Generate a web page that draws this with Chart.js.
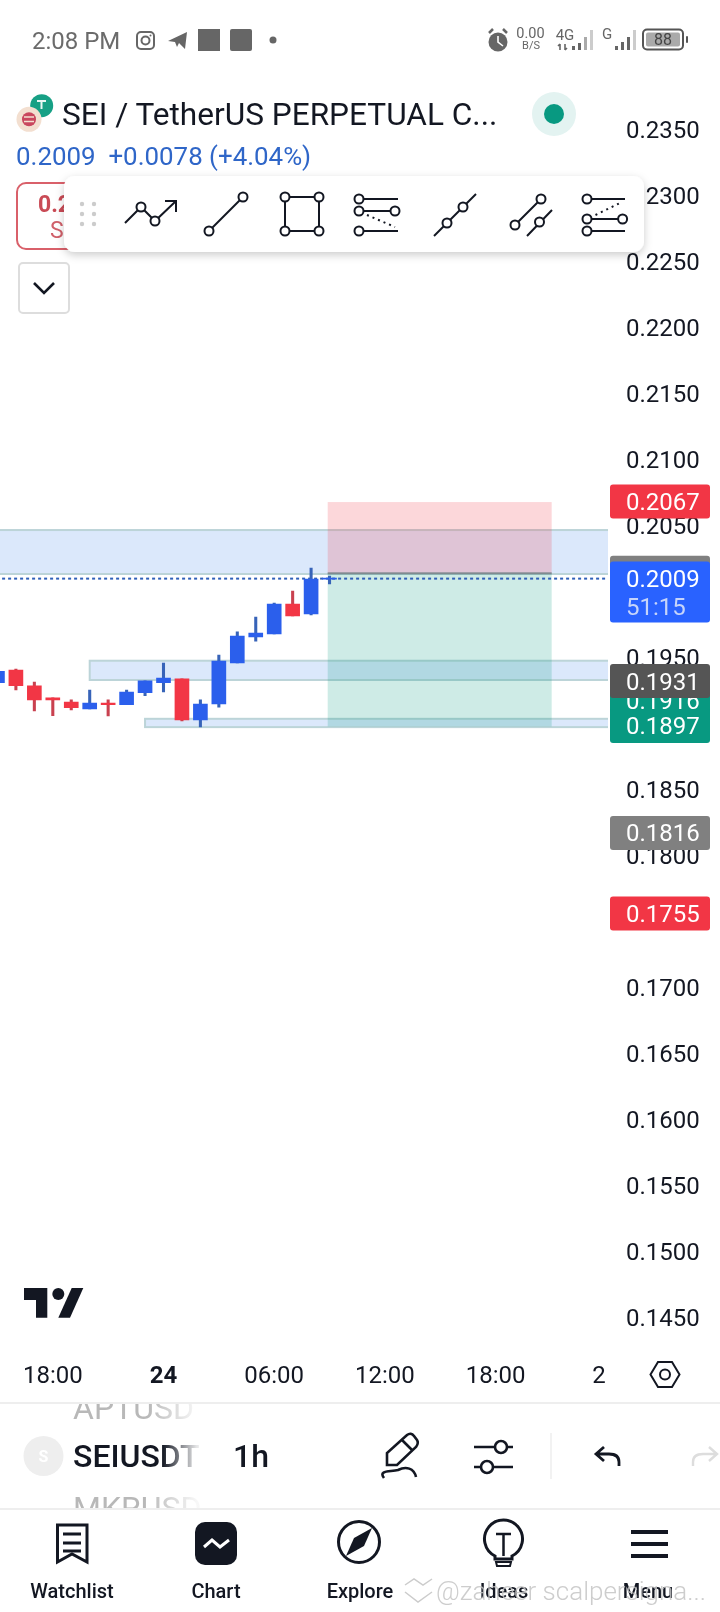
<!DOCTYPE html>
<html>
<head>
<meta charset="utf-8">
<title>SEIUSDT</title>
<script src="https://cdn.jsdelivr.net/npm/chart.js@4"></script>
<style>
    html, body { margin: 0; padding: 0; background: #fff; }
    #wrap { position: relative; width: 720px; height: 1612px; overflow: hidden; }
    #chart { position: absolute; left: 0; top: 0; }
    #overlay { position: absolute; left: 0; top: 0; pointer-events: none; font-family: Roboto, sans-serif; }
    .ln { fill: none; stroke: #131722; stroke-width: 2; }
    .dot { fill: #fff; stroke: #131722; stroke-width: 2; }
    .st { fill: #666; }
    .nav { font-size: 20px; font-weight: 500; fill: #131722; text-anchor: middle; }
</style>
</head>
<body>
<div id="wrap">
<canvas id="chart" width="720" height="1612"></canvas>
<svg id="overlay" width="720" height="1612" viewBox="0 0 720 1612">
    <defs>
        <linearGradient id="fade" x1="73" x2="197" y1="0" y2="0" gradientUnits="userSpaceOnUse">
            <stop offset="0.72" stop-color="#131722"/>
            <stop offset="1" stop-color="#131722" stop-opacity="0.1"/>
        </linearGradient>
        <linearGradient id="fadeGrey" x1="73" x2="197" y1="0" y2="0" gradientUnits="userSpaceOnUse">
            <stop offset="0.6" stop-color="#b8b8b8"/>
            <stop offset="1" stop-color="#b8b8b8" stop-opacity="0.1"/>
        </linearGradient>
        <filter id="shadow" x="-5%" y="-20%" width="110%" height="150%">
            <feDropShadow dx="0" dy="3" stdDeviation="4" flood-color="#000" flood-opacity="0.2"/>
        </filter>
        <clipPath id="ribbonClip"><rect x="0" y="1404" width="720" height="104"/></clipPath>
    </defs>

    <!-- status bar -->
    <text x="32" y="49" font-size="24" fill="#6b6b6b">2:08 PM</text>
    <rect x="137" y="32" width="17" height="17" rx="4" fill="none" stroke="#666" stroke-width="2"/>
    <circle cx="145.5" cy="40.5" r="4" fill="none" stroke="#666" stroke-width="2"/>
    <circle cx="150.5" cy="35.5" r="1" class="st"/>
    <path d="M168 41 L187 32 L185 49 L179 43 L177 47 L175 42 Z" class="st"/>
    <rect x="198" y="29" width="22" height="22" class="st"/>
    <rect x="230" y="29" width="22" height="22" rx="2" class="st"/>
    <circle cx="273" cy="40" r="3.5" class="st"/>
    <circle cx="498" cy="42" r="9.5" class="st"/>
    <path d="M498 36 V42 L503 46" fill="none" stroke="#fff" stroke-width="1.6"/>
    <path d="M489 33 L493 29 M507 33 L503 29" stroke="#666" stroke-width="2.5"/>
    <text x="530.5" y="38" font-size="14.5" fill="#666" text-anchor="middle">0.00</text>
    <text x="531" y="49" font-size="11" fill="#666" text-anchor="middle">B/S</text>
    <text x="565" y="40" font-size="15" fill="#666" text-anchor="middle">4G</text>
    <path d="M560 44 V50 M558 46 L560 44 M565 44 V50 M567 48 L565 50" stroke="#666" stroke-width="1.6" fill="none"/>
    <rect x="572" y="46" width="3" height="4" class="st"/>
    <rect x="578" y="43" width="3" height="7" class="st"/>
    <rect x="584" y="37" width="3" height="13" fill="#aaa"/>
    <rect x="590" y="30" width="3" height="20" fill="#ccc"/>
    <text x="607" y="39" font-size="15" fill="#666" text-anchor="middle">G</text>
    <rect x="615" y="46" width="3" height="4" class="st"/>
    <rect x="621" y="42" width="3" height="8" class="st"/>
    <rect x="627" y="37" width="3" height="13" class="st"/>
    <rect x="633" y="30" width="3" height="20" fill="#ccc"/>
    <rect x="643" y="29.5" width="40" height="20" rx="4" fill="#fff" stroke="#555" stroke-width="2"/>
    <rect x="646" y="32.5" width="34" height="14" rx="2" fill="#aaa"/>
    <text x="663" y="45" font-size="16" fill="#444" text-anchor="middle">88</text>
    <rect x="686" y="36" width="2" height="7" rx="1" fill="#555"/>

    <!-- symbol header -->
    <circle cx="41.7" cy="105.7" r="11.5" fill="#17a085"/>
    <path d="M37 101 H46 M41.5 101 V109" stroke="#e8f6f3" stroke-width="2" fill="none"/>
    <circle cx="29" cy="119.3" r="12.5" fill="#f3dfd0"/>
    <circle cx="29" cy="119.3" r="7" fill="#c9475e"/>
    <path d="M24 117 H34 M24 121.5 H34" stroke="#f3dfd0" stroke-width="1.4"/>
    <text x="62" y="125" font-size="31.6" fill="#131722">SEI / TetherUS PERPETUAL C...</text>
    <circle cx="554" cy="114" r="22" fill="#e3f3f1"/>
    <circle cx="554" cy="114" r="10" fill="#089981"/>
    <text x="16" y="165" font-size="25.9" fill="#2f66c8" xml:space="preserve">0.2009  +0.0078 (+4.04%)</text>

    <!-- sell button, mostly under the drawing toolbar -->
    <rect x="17" y="183" width="110" height="66" rx="9" fill="#fff" stroke="#d9606a" stroke-width="2"/>
    <text x="38" y="212" font-size="23" font-weight="700" fill="#c94a55">0.2</text>
    <text x="50" y="238" font-size="23" fill="#d0606a">S</text>
    <rect x="19" y="263" width="50" height="50" rx="4" fill="#fff" stroke="#ddd" stroke-width="2"/>
    <path d="M34 283 L44 293 L54 283" fill="none" stroke="#131722" stroke-width="2.6"/>

    <!-- drawing toolbar -->
    <rect x="64" y="176" width="580" height="76" rx="11" fill="#fff" filter="url(#shadow)"/>
    <g fill="#ccc">
        <circle cx="82" cy="204" r="2.2"/><circle cx="94" cy="204" r="2.2"/>
        <circle cx="82" cy="214" r="2.2"/><circle cx="94" cy="214" r="2.2"/>
        <circle cx="82" cy="224" r="2.2"/><circle cx="94" cy="224" r="2.2"/>
    </g>
    <path class="ln" d="M125 223 L141 207 L155 221 L176 201 M165 201 H176 V212"/>
    <circle class="dot" cx="141" cy="207" r="4.5"/><circle class="dot" cx="155" cy="221" r="4.5"/>
    <path class="ln" d="M209 231 L243 197"/>
    <circle class="dot" cx="209" cy="231" r="4.5"/><circle class="dot" cx="243" cy="197" r="4.5"/>
    <rect class="ln" x="285" y="197" width="34" height="34"/>
    <circle class="dot" cx="285" cy="197" r="4.5"/><circle class="dot" cx="319" cy="197" r="4.5"/>
    <circle class="dot" cx="285" cy="231" r="4.5"/><circle class="dot" cx="319" cy="231" r="4.5"/>
    <path class="ln" d="M359 199 H398 M359 211 H395 M359 231 H398"/>
    <path class="ln" d="M367 215 L395 227" stroke-dasharray="2 4"/>
    <circle class="dot" cx="359" cy="199" r="4.5"/><circle class="dot" cx="359" cy="211" r="4.5"/>
    <circle class="dot" cx="395" cy="211" r="4.5"/><circle class="dot" cx="359" cy="231" r="4.5"/>
    <path class="ln" d="M434 236 L476 194"/>
    <circle class="dot" cx="447" cy="223" r="4.5"/><circle class="dot" cx="463" cy="207" r="4.5"/>
    <path class="ln" d="M515 225 L541 199 M527 236 L552 210"/>
    <circle class="dot" cx="515" cy="225" r="4.5"/><circle class="dot" cx="541" cy="199" r="4.5"/>
    <circle class="dot" cx="539.5" cy="222" r="4.5"/>
    <path class="ln" d="M587 199 H625 M587 219 H622 M587 231 H625"/>
    <path class="ln" d="M595.5 215 L622 202" stroke-dasharray="2 4"/>
    <circle class="dot" cx="587" cy="199" r="4.5"/><circle class="dot" cx="587" cy="219" r="4.5"/>
    <circle class="dot" cx="622.6" cy="219" r="4.5"/><circle class="dot" cx="587" cy="231" r="4.5"/>

    <!-- tradingview mark -->
    <path d="M24 1288 H47.3 V1317.7 H36 V1300 H24 Z" fill="#131722"/>
    <circle cx="58.3" cy="1294" r="6" fill="#131722"/>
    <path d="M71.7 1288 H83.3 L70 1317.7 H58.3 Z" fill="#131722"/>

    <!-- scale settings button -->
    <path class="ln" d="M650.5 1374.5 L658 1362 H672 L679.5 1374.5 L672 1387 H658 Z"/>
    <circle class="ln" cx="665" cy="1374.5" r="5"/>
    <path d="M0 1403 H720 M0 1509 H720" stroke="#eee" stroke-width="2"/>

    <!-- symbol and interval wheel -->
    <g clip-path="url(#ribbonClip)">
        <text x="73" y="1419" font-size="32" fill="url(#fadeGrey)">APTUSD</text>
        <text x="73" y="1519" font-size="32" fill="url(#fadeGrey)">MKRUSD</text>
    </g>
    <circle cx="43.5" cy="1456" r="20" fill="#eee"/>
    <text x="43.5" y="1462" font-size="16" font-weight="700" fill="#fff" text-anchor="middle">S</text>
    <text x="73" y="1467" font-size="32" font-weight="500" fill="url(#fade)">SEIUSDT</text>
    <text x="233" y="1467" font-size="32" font-weight="500" fill="#131722">1h</text>
    <path fill="none" stroke="#131722" stroke-width="2.6" d="M387 1465 V1453 L407 1435 Q411 1432 414 1436 L417 1440 Q419 1443 416 1447 L397 1465 Z M402 1440 L412 1450"/>
    <path fill="none" stroke="#131722" stroke-width="2.6" d="M384 1478 C378 1470 390 1472 398 1470 C406 1466 414 1468 416 1477"/>
    <path fill="none" stroke="#131722" stroke-width="2.6" d="M474 1447 H495 M507 1447 H513 M474 1467 H481 M493 1467 H513"/>
    <circle fill="none" stroke="#131722" stroke-width="2.6" cx="501" cy="1447" r="6"/>
    <circle fill="none" stroke="#131722" stroke-width="2.6" cx="487" cy="1467" r="6"/>
    <path d="M551 1433 V1479" stroke="#eee" stroke-width="1.5"/>
    <path fill="none" stroke="#131722" stroke-width="2.8" d="M619 1466 V1462 Q619 1454 609 1454 H597 M604 1447 L596 1454 L604 1461"/>
    <path d="M693 1466 V1462 Q693 1454 703 1454 H716 M709 1447 L717 1454 L709 1461" fill="none" stroke="#ddd" stroke-width="2.4"/>

    <!-- bottom navigation -->
    <path d="M57.5 1525 H87 V1562 L72 1554 L57.5 1562 Z" fill="none" stroke="#131722" stroke-width="3"/>
    <path d="M63 1534 H81 M63 1543 H81 M63 1551 H81" stroke="#131722" stroke-width="3"/>
    <rect x="195" y="1522" width="42" height="43" rx="10" fill="#131722"/>
    <path d="M204 1547 L212 1540 L220 1547 L229 1540" fill="none" stroke="#fff" stroke-width="3"/>
    <circle cx="359" cy="1542" r="20.5" fill="none" stroke="#131722" stroke-width="3"/>
    <path d="M372 1528 L354 1538 L346 1556 L364 1546 Z" fill="#131722"/>
    <path d="M495 1556 A19 19 0 1 1 512 1556 V1559 H495 Z" fill="none" stroke="#131722" stroke-width="3"/>
    <path d="M496 1534 H511 M503.5 1534 V1556" stroke="#131722" stroke-width="2.5"/>
    <path d="M496 1562 H511 L510 1566 H497 Z" fill="none" stroke="#131722" stroke-width="2"/>
    <path d="M631 1532 H668 M631 1544 H668 M631 1556 H668" stroke="#131722" stroke-width="4"/>

    <text class="nav" x="72" y="1598">Watchlist</text>
    <text class="nav" x="216" y="1598">Chart</text>
    <text class="nav" x="360" y="1598">Explore</text>
    <text class="nav" x="504" y="1598">Ideas</text>
    <text class="nav" x="648" y="1598">Menu</text>
    <path d="M405 1585 L414 1579 L423 1585 L432 1579 M405 1592 L418 1602 L432 1592" fill="none" stroke="#ccc" stroke-width="1.5"/>
    <text x="436" y="1600" font-size="26" font-weight="300" fill="#c4c4c4" fill-opacity="0.85">@zaheer scalpersigna...</text>
</svg>
</div>

<script>
// 1h candles, hours counted from the 24th 00:00
const hours = [-9, -8, -7, -6, -5, -4, -3, -2, -1, 0, 1, 2, 3, 4, 5, 6, 7, 8, 9];
const opens = [0.19302, 0.19398, 0.19277, 0.19186, 0.19155, 0.19102, 0.19148, 0.19135, 0.19226, 0.19302,
    0.19330, 0.19019, 0.19140, 0.19451, 0.19648, 0.19671, 0.19898, 0.19822, 0.20085];
const highs = [0.19388, 0.19405, 0.19307, 0.19186, 0.19171, 0.19246, 0.19171, 0.19246, 0.19315, 0.19451,
    0.19330, 0.19171, 0.19511, 0.19686, 0.19799, 0.19905, 0.19996, 0.20170, 0.20110];
const lows = [0.19302, 0.19246, 0.19087, 0.19052, 0.19095, 0.19102, 0.19049, 0.19135, 0.19203, 0.19231,
    0.19012, 0.18966, 0.19117, 0.19451, 0.19617, 0.19671, 0.19807, 0.19815, 0.20050];
const closes = [0.19388, 0.19279, 0.19171, 0.19171, 0.19112, 0.19148, 0.19135, 0.19231, 0.19315, 0.19337,
    0.19019, 0.19140, 0.19466, 0.19655, 0.19678, 0.19898, 0.19807, 0.20087, 0.20095];

const lastPrice = 0.2009;
const countdown = "51:15";

const yTickValues = [0.235, 0.23, 0.225, 0.22, 0.215, 0.21, 0.205, 0.2, 0.195, 0.19, 0.185, 0.18, 0.175, 0.17, 0.165, 0.16, 0.155, 0.15, 0.145];
const yTickLabels = ["0.2350", "0.2300", "0.2250", "0.2200", "0.2150", "0.2100", "0.2050", "0.2000", "0.1950", "0.1900", "0.1850", "0.1800", "0.1750", "0.1700", "0.1650", "0.1600", "0.1550", "0.1500", "0.1450"];
const xTickValues = [-6, 0, 6, 12, 18, 23.6];
const xTickLabels = ["18:00", "24", "06:00", "12:00", "18:00", "2"];

// support / resistance zones
const zoneStarts = [-12, -4, -1];
const zoneTops = [0.20458, 0.19468, 0.19028];
const zoneBottoms = [0.20125, 0.19322, 0.18965];

// long position tool
const positionStart = 8.9;
const positionEnd = 21.04;
const positionStop = 0.2067;
const positionEntry = 0.2013;
const positionTarget = 0.1897;

// price tags on the right, painted in this order
const tagPrices = [0.2067, 0.2013, 0.1916, 0.1897, 0.1931, 0.1816, 0.1755];
const tagTexts = ["0.2067", "0.2013", "0.1916", "0.1897", "0.1931", "0.1816", "0.1755"];
const tagFills = ["#f23645", "#808080", "#089981", "#089981", "#555555", "#808080", "#f23645"];

const upColor = "#2b5fec";
const downColor = "#f23645";
const upWick = "#3763b8";
const downWick = "#c9414f";
const FONT = "Roboto";

let zonesPlugin = {
    id: "zones",
    beforeDatasetsDraw(chart)
    {
        let ctx = chart.ctx;
        let area = chart.chartArea;
        let x = chart.scales.x;
        let y = chart.scales.y;

        ctx.save();
        ctx.beginPath();
        ctx.rect(area.left, area.top, area.right - area.left, area.bottom - area.top);
        ctx.clip();

        ctx.fillStyle = "#dbe8fb";
        ctx.strokeStyle = "#bcd4d8";
        ctx.lineWidth = 2;
        for(let i = 0; i < zoneStarts.length; i++)
        {
            let left = x.getPixelForValue(zoneStarts[i]);
            let top = y.getPixelForValue(zoneTops[i]);
            let bottom = y.getPixelForValue(zoneBottoms[i]);
            ctx.fillRect(left, top, area.right + 10 - left, bottom - top);
            ctx.strokeRect(left, top, area.right + 10 - left, bottom - top);
        }

        let left = x.getPixelForValue(positionStart);
        let width = x.getPixelForValue(positionEnd) - left;
        let stop = y.getPixelForValue(positionStop);
        let entry = y.getPixelForValue(positionEntry);
        let target = y.getPixelForValue(positionTarget);
        ctx.fillStyle = "rgba(242,54,69,0.2)";
        ctx.fillRect(left, stop, width, entry - stop);
        ctx.fillStyle = "rgba(8,153,129,0.2)";
        ctx.fillRect(left, entry, width, target - entry);
        ctx.fillStyle = "#7f8a90";
        ctx.fillRect(left, entry - 1, width, 2);
        ctx.restore();
    }
};

let tagsPlugin = {
    id: "tags",
    afterDraw(chart)
    {
        let y = chart.scales.y;
        for(let i = 0; i < tagPrices.length; i++)
        {
            // the last price tag sits between the grey and the green ones
            if(i == 2) this.drawLastPrice(chart.ctx, y);
            this.drawTag(chart.ctx, y.getPixelForValue(tagPrices[i]) - 17.5, 34, tagFills[i]);
            this.drawLabel(chart.ctx, tagTexts[i], y.getPixelForValue(tagPrices[i]), "#fff");
        }
    },
    drawLastPrice(ctx, y)
    {
        let mid = y.getPixelForValue(lastPrice);
        this.drawTag(ctx, mid - 17, 61, "#2962ff");
        this.drawLabel(ctx, lastPrice.toFixed(4), mid, "#fff");
        this.drawLabel(ctx, countdown, mid + 28, "#c6d4fa");
    },
    drawTag(ctx, top, height, fill)
    {
        ctx.fillStyle = fill;
        ctx.beginPath();
        ctx.roundRect(610, top, 100, height, 3);
        ctx.fill();
    },
    drawLabel(ctx, text, mid, color)
    {
        ctx.font = "24px " + FONT;
        ctx.textAlign = "left";
        ctx.textBaseline = "middle";
        ctx.fillStyle = color;
        ctx.fillText(text, 626, mid + 2);
    }
};

let bodyData = hours.map((h, i) => ({x: h, y: [opens[i], closes[i]]}));
let wickData = hours.map((h, i) => ({x: h, y: [lows[i], highs[i]]}));
let bodyColors = hours.map((h, i) => closes[i] >= opens[i] ? upColor : downColor);
let wickColors = hours.map((h, i) => closes[i] >= opens[i] ? upWick : downWick);

new Chart(document.getElementById("chart").getContext("2d"), {
    type: "bar",
    plugins: [zonesPlugin, tagsPlugin],
    data: {
        datasets: [
            {
                label: "body",
                data: bodyData,
                backgroundColor: bodyColors,
                barThickness: 14,
                grouped: false,
                order: 1
            },
            {
                label: "wick",
                data: wickData,
                backgroundColor: wickColors,
                barThickness: 2.4,
                grouped: false,
                order: 2
            },
            {
                type: "line",
                label: "last",
                data: [{x: -12, y: lastPrice}, {x: 30, y: lastPrice}],
                borderColor: "#2f5fb8",
                borderWidth: 2,
                borderDash: [3, 3],
                pointRadius: 0,
                order: 3
            }
        ]
    },
    options: {
        responsive: false,
        animation: false,
        events: [],
        layout: {padding: {top: 62.5, left: 0, right: 0, bottom: 0}},
        plugins: {legend: {display: false}, tooltip: {enabled: false}},
        scales: {
            x: {
                type: "linear",
                offset: false,
                min: -8.862,
                max: 24.093,
                grid: {display: false, drawTicks: false},
                border: {display: false},
                ticks: {
                    autoSkip: false,
                    maxRotation: 0,
                    padding: 13,
                    color: "#131722",
                    font: (c) => ({family: FONT, size: 24, weight: c.index == 1 ? "bold" : "normal"}),
                    callback: (v, i) => xTickLabels[i]
                },
                afterBuildTicks: (s) => { s.ticks = xTickValues.map((v) => ({value: v})); },
                afterFit: (s) => { s.height = 262.5; }
            },
            y: {
                position: "right",
                min: 0.1425,
                max: 0.24,
                grid: {display: false, drawTicks: false},
                border: {display: false},
                ticks: {
                    autoSkip: false,
                    padding: 18,
                    color: "#131722",
                    font: {family: FONT, size: 24},
                    callback: (v, i) => yTickLabels[i]
                },
                afterBuildTicks: (s) => { s.ticks = yTickValues.map((v) => ({value: v})); },
                afterFit: (s) =>
                {
                    s.width = 112;
                    // digits sit a little high on the middle baseline, push the labels down
                    // (afterFit runs more than once, wrap only the first time)
                    if(s.labelsShifted) return;
                    s.labelsShifted = true;
                    let drawLabels = s.drawLabels;
                    s.drawLabels = function(area)
                    {
                        s.ctx.save();
                        s.ctx.translate(0, 3);
                        drawLabels.call(s, area);
                        s.ctx.restore();
                    };
                }
            }
        }
    }
});
</script>
</body>
</html>
